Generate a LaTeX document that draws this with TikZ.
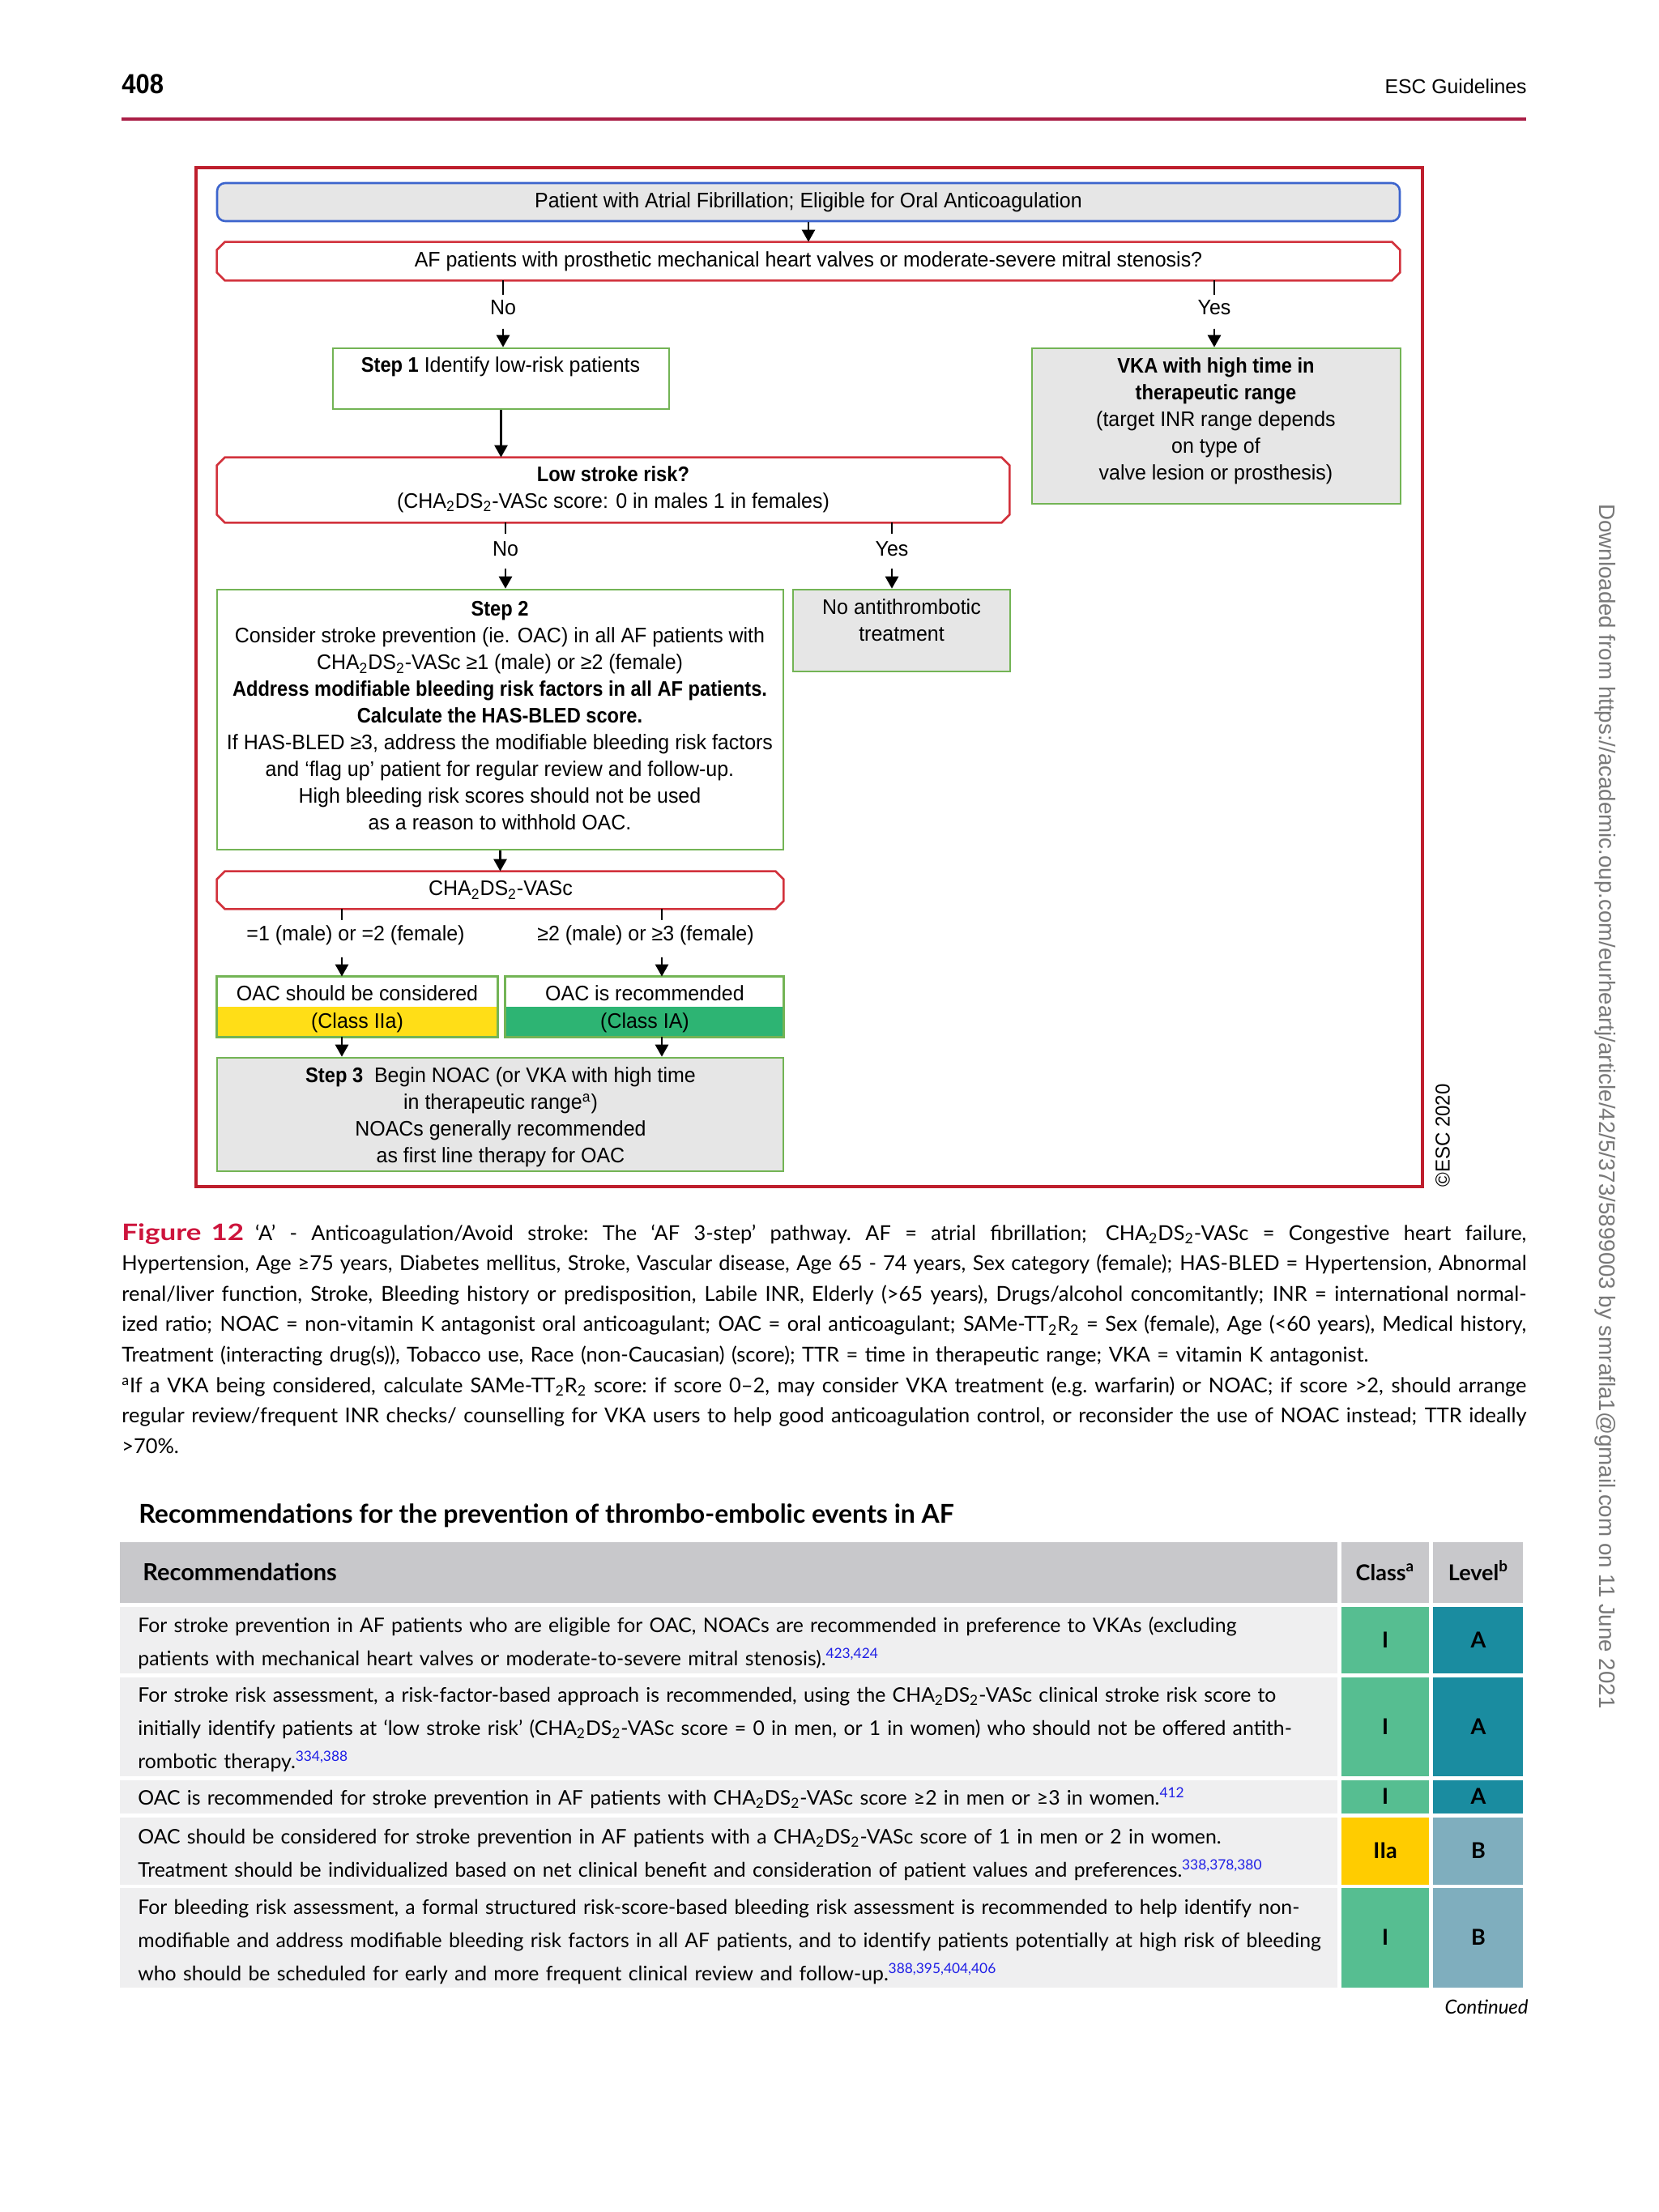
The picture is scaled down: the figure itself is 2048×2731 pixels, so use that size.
\documentclass[tikz,border=0pt]{standalone}
\usepackage{fontspec}
\setmainfont{Liberation Sans}
\newfontfamily\dfont{Liberation Sans}[FakeStretch=0.96, BoldFeatures={FakeStretch=0.91}]
\newfontfamily\pfont{Lato}
\newfontfamily\figfont{Lato}[FakeStretch=1.25]
\newfontfamily\tfont{Lato}
\usetikzlibrary{arrows.meta,fit,calc}
\definecolor{redc}{RGB}{210,50,60}
\definecolor{framered}{RGB}{190,30,45}
\definecolor{bluec}{RGB}{60,100,205}
\definecolor{grnb}{RGB}{115,180,85}
\definecolor{greyf}{RGB}{230,230,230}
\definecolor{yelf}{RGB}{255,222,23}
\definecolor{grnf}{RGB}{45,180,115}
\definecolor{hdrrule}{RGB}{170,30,70}
\definecolor{figred}{RGB}{205,20,60}
\definecolor{refblue}{RGB}{30,30,230}
\definecolor{thgrey}{RGB}{200,200,203}
\definecolor{rowgrey}{RGB}{239,239,240}
\definecolor{clsI}{RGB}{86,190,145}
\definecolor{lvlA}{RGB}{26,140,160}
\definecolor{clsIIa}{RGB}{255,204,0}
\definecolor{lvlB}{RGB}{127,174,190}
\definecolor{dlgrey}{RGB}{120,120,120}
\newcommand\chamf[1]{\draw[redc, line width=1.3pt, fill=white]
 ($(#1.north west)+(10,0)$) -- ($(#1.north east)+(-10,0)$) -- ($(#1.north east)+(0,10)$) --
 ($(#1.south east)+(0,-10)$) -- ($(#1.south east)+(-10,0)$) -- ($(#1.south west)+(10,0)$) --
 ($(#1.south west)+(0,-10)$) -- ($(#1.north west)+(0,10)$) -- cycle;}
\newcommand\refs[1]{\textsuperscript{\color{refblue}#1}}
\newcommand\cha{CHA\textsubscript{2}DS\textsubscript{2}-VASc}
\newcommand\fl[1]{\leavevmode\hbox to 867pt{\spaceskip=0.25em plus 1fil minus 0.1em\xspaceskip=\spaceskip #1}}
\begin{document}
\begin{tikzpicture}[x=0.5pt,y=-0.5pt,
 dtxt/.style={font=\dfont\fontsize{13}{16.5}\selectfont, align=center, inner sep=0pt},
 gbox/.style={draw=grnb, line width=1.3pt, fill=white, inner sep=0pt},
 ggbox/.style={gbox, fill=greyf},
 bbox/.style={draw=bluec, line width=1.3pt, fill=greyf, rounded corners=5pt, inner sep=0pt},
 hid/.style={inner sep=0pt, draw=none},
 conn/.style={line width=1.4pt},
 arr/.style={line width=1.4pt, -{Triangle[length=7.5pt,width=8pt]}},
 ptxt/.style={font=\pfont\fontsize{12.7}{18.8}\selectfont, inner sep=0pt},
 rtxt/.style={font=\pfont\fontsize{12.4}{20.5}\selectfont, inner sep=0pt, anchor=base west, text width=800pt, align=left},
 lett/.style={font=\tfont\bfseries\fontsize{13.5}{15}\selectfont, inner sep=0pt}]
\useasboundingbox (0,0) rectangle (2048,2731);
\fill[white] (0,0) rectangle (2048,2731);
% page header
\node[anchor=base west, font=\dfont\bfseries\fontsize{17}{19}\selectfont, inner sep=0pt] (pg) at (150,115) {408};
\node[anchor=base east, font=\fontsize{12.4}{15}\selectfont, inner sep=0pt] (rh) at (1885,115) {ESC Guidelines};
\draw[hdrrule, line width=1.6pt] (150,147) -- (1884,147);
% frame
\draw[framered, line width=2pt] (242,207) rectangle (1756,1465);
% boxes
\node[bbox, fit={(268,226)(1728,273)}] (b1) {};
\node[dtxt] (b1t) at (b1.center) {Patient with Atrial Fibrillation; Eligible for Oral Anticoagulation};
\node[hid, fit={(268,299)(1728,346)}] (b2) {};
\chamf{b2}
\node[dtxt] (b2t) at (b2.center) {AF patients with prosthetic mechanical heart valves or moderate-severe mitral stenosis?};
\draw[arr] (b1.south) -- (b2.north);
\node[dtxt] (no1) at (621,380) {No};
\node[dtxt] (yes1) at (1499,380) {Yes};
\node[gbox, fit={(411,430)(826,505)}] (s1) {};
\node[dtxt] (s1t) at (618,453) {\textbf{Step 1} Identify low-risk patients};
\node[ggbox, fit={(1274,430)(1729,622)}] (vka) {};
\node[dtxt] (vkat) at (1501,520) {\textbf{VKA with high time in}\\\textbf{therapeutic range}\\(target INR range depends\\on type of\\valve lesion or prosthesis)};
\draw[conn] (no1 |- b2.south) -- ++(0,18);
\draw[conn] (yes1 |- b2.south) -- ++(0,18);
\draw[arr] ($(no1 |- s1.north)+(0,-23)$) -- (no1 |- s1.north);
\draw[arr] ($(yes1 |- vka.north)+(0,-23)$) -- (yes1 |- vka.north);
\node[hid, fit={(268,565)(1246,645)}] (low) {};
\chamf{low}
\node[dtxt] (lowt) at (757,604) {\textbf{Low stroke risk?}\\(\cha{} score: 0 in males 1 in females)};
\draw[arr] (s1.south) -- (s1.south |- low.north);
\node[dtxt] (no2) at (624,678) {No};
\node[dtxt] (yes2) at (1101,678) {Yes};
\node[gbox, fit={(268,728)(967,1049)}] (s2) {};
\node[dtxt] (s2t) at (617,884) {\textbf{Step 2}\\Consider stroke prevention (ie. OAC) in all AF patients with\\\cha{} ≥1 (male) or ≥2 (female)\\\textbf{Address modifiable bleeding risk factors in all AF patients.}\\\textbf{Calculate the HAS-BLED score.}\\If HAS-BLED ≥3, address the modifiable bleeding risk factors\\and ‘flag up’ patient for regular review and follow-up.\\High bleeding risk scores should not be used\\as a reason to withhold OAC.};
\node[ggbox, fit={(979,728)(1247,829)}] (nat) {};
\node[dtxt] (natt) at (1113,766) {No antithrombotic\\treatment};
\draw[conn] (no2 |- low.south) -- ++(0,14);
\draw[conn] (yes2 |- low.south) -- ++(0,14);
\draw[arr] ($(no2 |- s2.north)+(0,-25)$) -- (no2 |- s2.north);
\draw[arr] ($(yes2 |- nat.north)+(0,-25)$) -- (yes2 |- nat.north);
\node[hid, fit={(268,1076)(967,1122)}] (cha) {};
\chamf{cha}
\node[dtxt] (chat) at (618,1099) {\cha};
\draw[arr] (s2.south) -- (cha.north);
\coordinate (t1) at (422,1155);
\coordinate (t2) at (817,1155);
\node[dtxt] (l1) at (439,1155) {=1 (male) or =2 (female)};
\node[dtxt] (l2) at (797,1155) {≥2 (male) or ≥3 (female)};
\node[hid, fill=white, fit={(268,1206)(614,1280)}] (o1) {};
\node[hid, fill=white, fit={(624,1206)(967,1280)}] (o2) {};
\fill[yelf] (o1.west) rectangle (o1.south east);
\fill[grnf] (o2.west) rectangle (o2.south east);
\draw[grnb, line width=1.3pt] (o1.north west) rectangle (o1.south east);
\draw[grnb, line width=1.3pt] (o2.north west) rectangle (o2.south east);
\node[dtxt] (o1a) at (441,1226) {OAC should be considered};
\node[dtxt] (o1b) at (441,1263) {(Class IIa)};
\node[dtxt] (o2a) at (796,1226) {OAC is recommended};
\node[dtxt] (o2b) at (796,1263) {(Class IA)};
\draw[conn] (t1 |- cha.south) -- ++(0,14);
\draw[conn] (t2 |- cha.south) -- ++(0,14);
\draw[arr] ($(t1 |- o1.north)+(0,-24)$) -- (t1 |- o1.north);
\draw[arr] ($(t2 |- o2.north)+(0,-24)$) -- (t2 |- o2.north);
\node[ggbox, fit={(268,1306)(967,1446)}] (s3) {};
\node[dtxt] (s3t) at (618,1379) {\textbf{Step 3}\ \ Begin NOAC (or VKA with high time\\in therapeutic range\textsuperscript{a})\\NOACs generally recommended\\as first line therapy for OAC};
\draw[arr] (t1 |- o1.south) -- (t1 |- s3.north);
\draw[arr] (t2 |- o2.south) -- (t2 |- s3.north);
% side texts
\node[rotate=90, font=\dfont\fontsize{12.5}{15}\selectfont, inner sep=0pt] (cpy) at (1781,1402) {©ESC 2020};
\node[rotate=-90, text=dlgrey, font=\fontsize{13.85}{16}\selectfont, inner sep=0pt] (dl) at (1982,1366) {Downloaded from https://academic.oup.com/eurheartj/article/42/5/373/5899003 by smrafla1@gmail.com on 11 June 2021};
% caption
\node[ptxt, anchor=base west, text width=867pt, align=left] (cap) at (150,1531) {%
\fl{{\color{figred}\figfont\bfseries\fontsize{14}{18.8}\selectfont Figure\hspace{6pt}12}\hspace{7pt}‘A’ - Anticoagulation/Avoid stroke: The ‘AF 3-step’ pathway. AF = atrial fibrillation; \cha{} = Congestive heart failure,}\\
\fl{Hypertension, Age ≥75 years, Diabetes mellitus, Stroke, Vascular disease, Age 65 - 74 years, Sex category (female); HAS-BLED = Hypertension, Abnormal}\\
\fl{renal/liver function, Stroke, Bleeding history or predisposition, Labile INR, Elderly (>65 years), Drugs/alcohol concomitantly; INR = international normal-}\\
\fl{ized ratio; NOAC = non-vitamin K antagonist oral anticoagulant; OAC = oral anticoagulant; SAMe-TT\textsubscript{2}R\textsubscript{2} = Sex (female), Age (<60 years), Medical history,}\\
Treatment (interacting drug(s)), Tobacco use, Race (non-Caucasian) (score); TTR = time in therapeutic range; VKA = vitamin K antagonist.\\
\fl{\textsuperscript{a}If a VKA being considered, calculate SAMe-TT\textsubscript{2}R\textsubscript{2} score: if score 0–2, may consider VKA treatment (e.g. warfarin) or NOAC; if score >2, should arrange}\\
\fl{regular review/frequent INR checks/ counselling for VKA users to help good anticoagulation control, or reconsider the use of NOAC instead; TTR ideally}\\
>70\%.};
% table
\node[anchor=base west, font=\tfont\bfseries\fontsize{16}{19}\selectfont, inner sep=0pt] (ttl) at (171,1880) {Recommendations for the prevention of thrombo-embolic events in AF};
\fill[thgrey] (148,1904) rectangle (1651,1979);
\fill[thgrey] (1656,1904) rectangle (1764,1979);
\fill[thgrey] (1769,1904) rectangle (1880,1979);
\node[anchor=base west, font=\tfont\bfseries\fontsize{14.5}{17}\selectfont, inner sep=0pt] (hrec) at (176,1951) {Recommendations};
\node[anchor=base, font=\tfont\bfseries\fontsize{13.5}{15}\selectfont, inner sep=0pt] (hcls) at (1710,1951) {Class\textsuperscript{a}};
\node[anchor=base, font=\tfont\bfseries\fontsize{13.5}{15}\selectfont, inner sep=0pt] (hlvl) at (1825,1951) {Level\textsuperscript{b}};
% rows
\foreach \ya/\yb/\cc/\lc in {1984/2066/clsI/lvlA, 2071/2193/clsI/lvlA, 2198/2239/clsI/lvlA, 2244/2327/clsIIa/lvlB, 2331/2454/clsI/lvlB}{
 \fill[rowgrey] (148,\ya) rectangle (1651,\yb);
 \fill[\cc] (1656,\ya) rectangle (1764,\yb);
 \fill[\lc] (1769,\ya) rectangle (1880,\yb);
}
\node[rtxt] (r1) at (170,2015) {For stroke prevention in AF patients who are eligible for OAC, NOACs are recommended in preference to VKAs (excluding\\patients with mechanical heart valves or moderate-to-severe mitral stenosis).\refs{423,424}};
\node[rtxt] (r2) at (170,2101) {For stroke risk assessment, a risk-factor-based approach is recommended, using the \cha{} clinical stroke risk score to\\initially identify patients at ‘low stroke risk’ (\cha{} score = 0 in men, or 1 in women) who should not be offered antith-\\rombotic therapy.\refs{334,388}};
\node[rtxt] (r3) at (170,2228) {OAC is recommended for stroke prevention in AF patients with \cha{} score ≥2 in men or ≥3 in women.\refs{412}};
\node[rtxt] (r4) at (170,2276) {OAC should be considered for stroke prevention in AF patients with a \cha{} score of 1 in men or 2 in women.\\Treatment should be individualized based on net clinical benefit and consideration of patient values and preferences.\refs{338,378,380}};
\node[rtxt] (r5) at (170,2363) {For bleeding risk assessment, a formal structured risk-score-based bleeding risk assessment is recommended to help identify non-\\modifiable and address modifiable bleeding risk factors in all AF patients, and to identify patients potentially at high risk of bleeding\\who should be scheduled for early and more frequent clinical review and follow-up.\refs{388,395,404,406}};
\node[lett] (c1) at (1710,2025) {I};   \node[lett] (v1) at (1825,2025) {A};
\node[lett] (c2) at (1710,2132) {I};   \node[lett] (v2) at (1825,2132) {A};
\node[lett] (c3) at (1710,2218) {I};   \node[lett] (v3) at (1825,2218) {A};
\node[lett] (c4) at (1710,2285) {IIa}; \node[lett] (v4) at (1825,2285) {B};
\node[lett] (c5) at (1710,2392) {I};   \node[lett] (v5) at (1825,2392) {B};
\node[anchor=base east, font=\pfont\itshape\fontsize{12}{15}\selectfont, inner sep=0pt] (cont) at (1887,2486) {Continued};
\end{tikzpicture}
\end{document}
